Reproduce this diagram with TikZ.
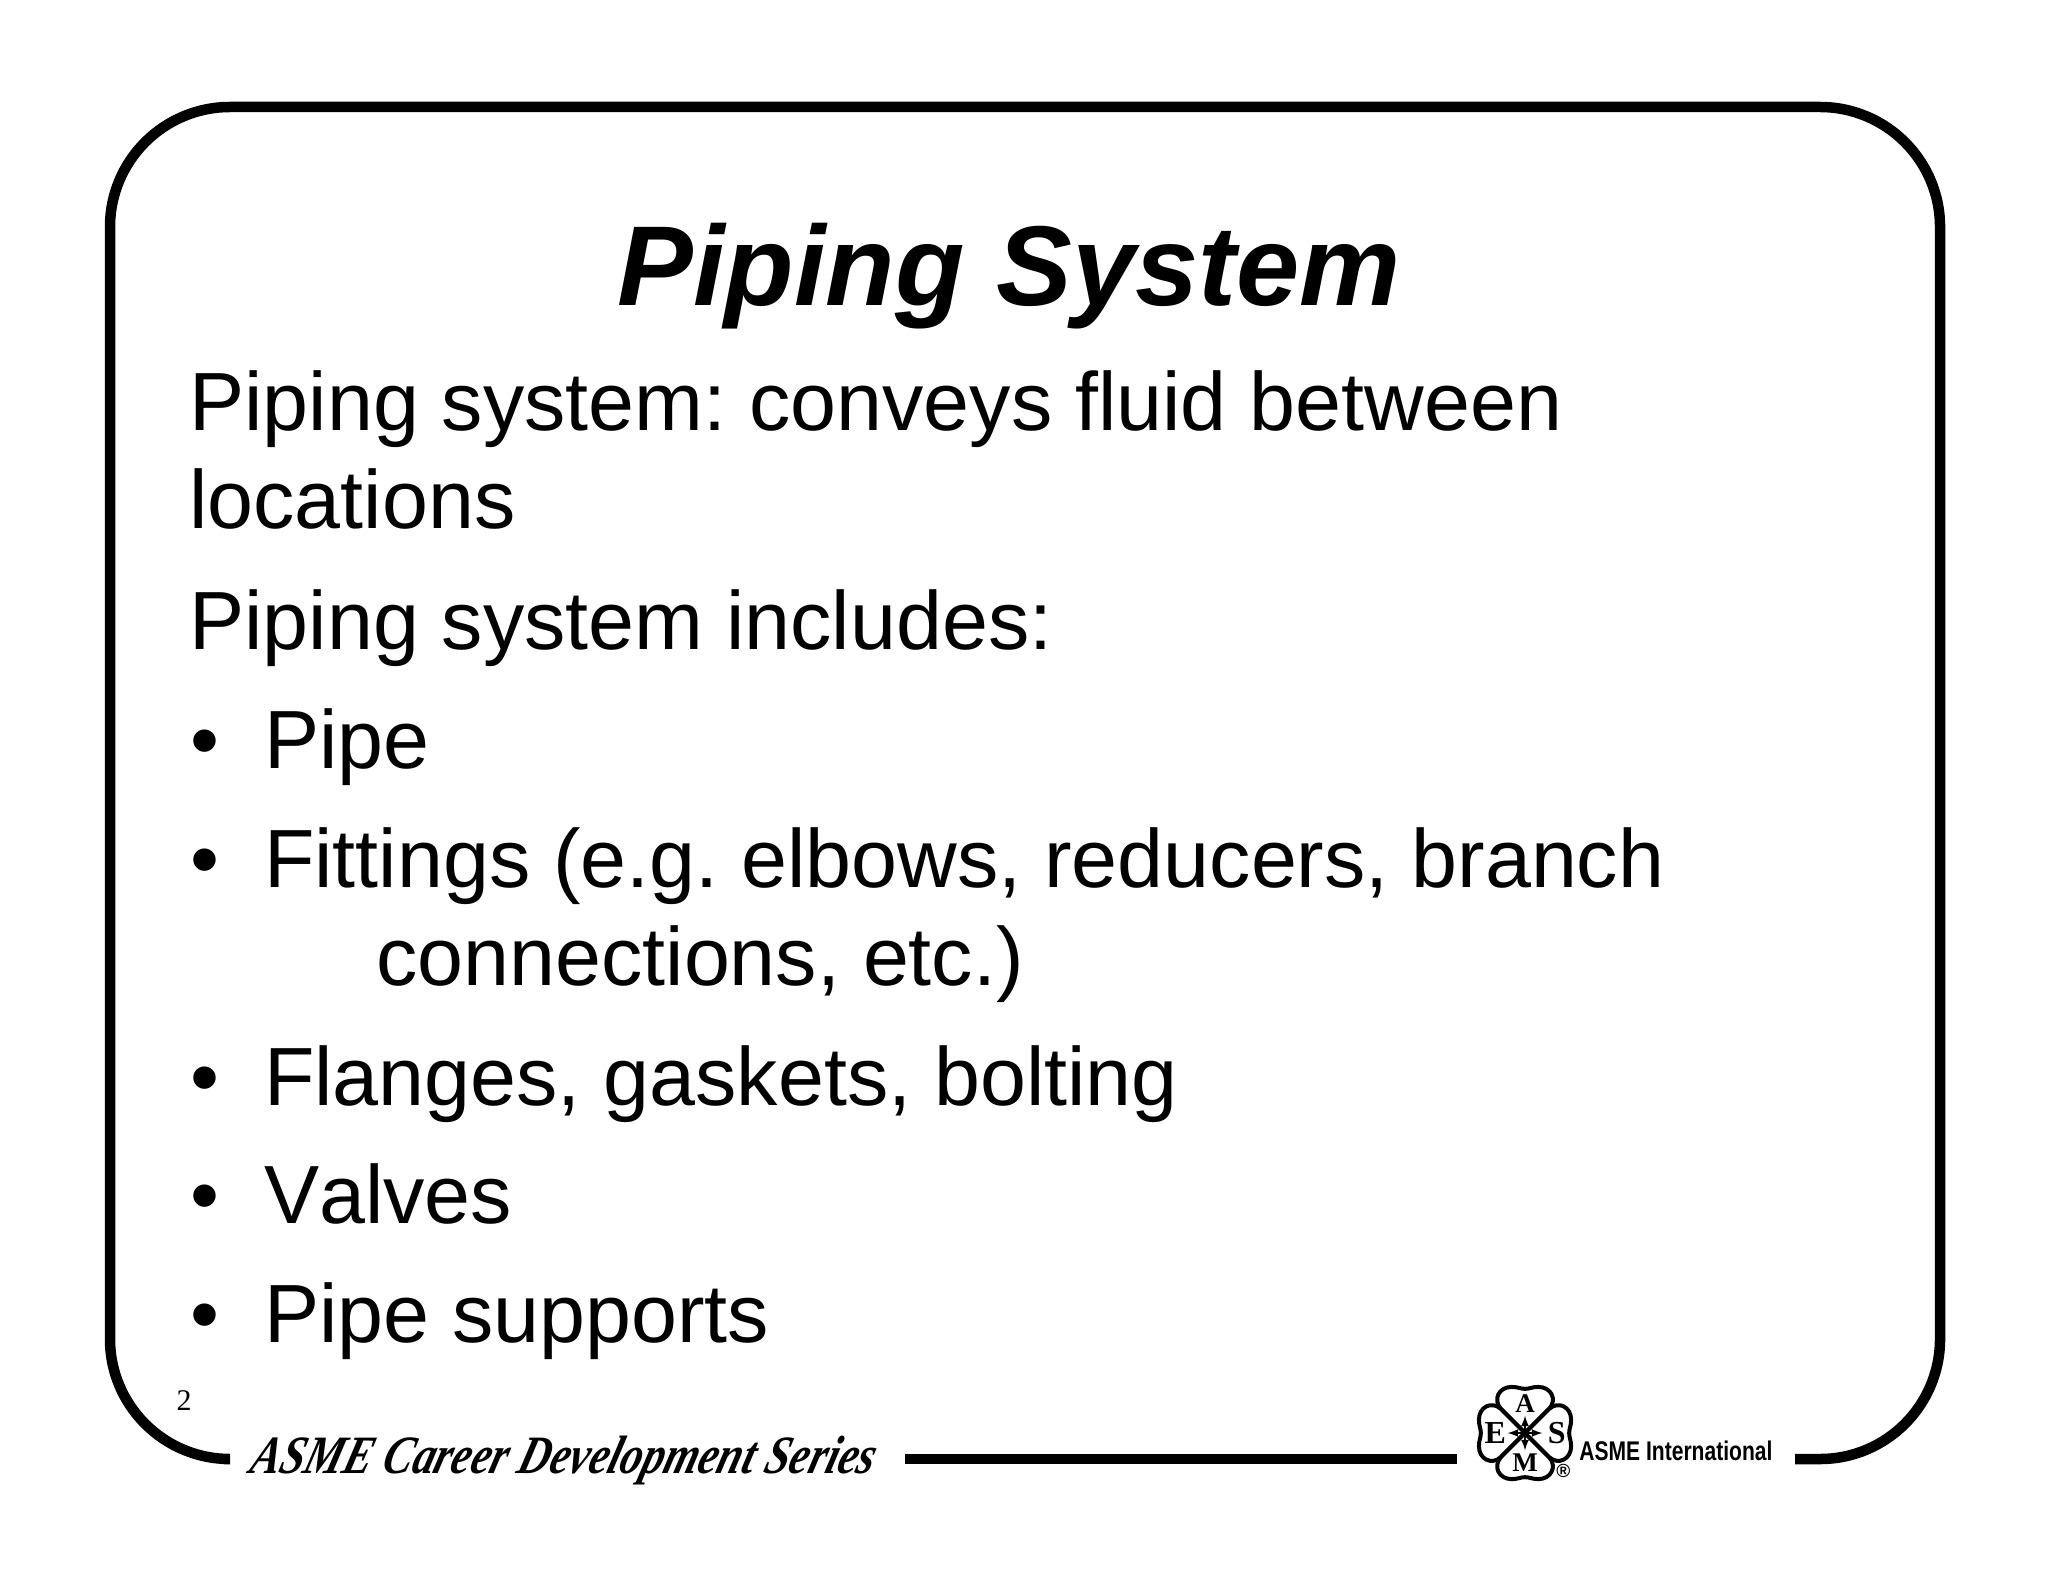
\documentclass[tikz,border=0pt]{standalone}
\usepackage{fontspec}
\setmainfont{Liberation Sans}
\newfontfamily\careerfont[FakeSlant=0.28,FakeStretch=0.81]{Liberation Serif}
\newfontfamily\logofont[FakeStretch=0.78]{Liberation Sans}
\newfontfamily\pagefont{Liberation Serif}
\usetikzlibrary{positioning}
\tikzset{%
	frame/.style={line width=5.25pt, line cap=butt, rounded corners=60pt},
	title/.style={inner sep=0pt, anchor=base, font=\fontsize{56.8}{60}\selectfont\bfseries\itshape},
	body/.style={inner sep=0pt, anchor=base west, font=\fontsize{41.3}{49}\selectfont},
	bull/.style={body},
	pagenum/.style={inner sep=0pt, anchor=base, font=\pagefont\fontsize{15}{16}\selectfont},
	career/.style={inner sep=0pt, anchor=base west, font=\careerfont\fontsize{27}{30}\selectfont\bfseries\itshape},
	asme/.style={inner sep=0pt, anchor=base west, font=\logofont\fontsize{13.5}{15}\selectfont\bfseries},
	lobe/.style={line width=2pt, fill=white, line join=round},
	letter/.style={inner sep=0pt, font=\pagefont\fontsize{13.5}{14}\selectfont\bfseries},
	sideletter/.style={inner sep=0pt, font=\pagefont\fontsize{16}{16}\selectfont\bfseries},
	regmark/.style={inner sep=0pt, font=\fontsize{9.5}{10}\selectfont\bfseries},
	spoke/.style={line width=0.8pt, -latex}
}
\begin{document}
\frenchspacing
\begin{tikzpicture}[x=0.5pt, y=-0.5pt]
	\useasboundingbox (0,0) rectangle (2048,1582);
	\coordinate (fl) at (224,1459);
	\coordinate (ml) at (905,1459);
	\coordinate (mr) at (1457,1459);
	\coordinate (fr) at (1795,1459);
	\draw[frame] (fl) -- (110,1459) -- (110,107) -- (1940,107) -- (1940,1459) -- (fr);
	\draw[frame] (ml) -- (mr);
	\node[title] (head) at (1009,306) {Piping System};
	\node[body] (l1) at (189,431)  {Piping system: conveys fluid between};
	\node[body] (l2) at (189,529)  {locations};
	\node[body] (l3) at (189,649)  {Piping system includes:};
	\node[bull] (b1) at (190,768)  {\textbullet};
	\node[body, base right=22pt of b1] (i1) {Pipe};
	\node[bull] (b2) at (190,887)  {\textbullet};
	\node[body, base right=22pt of b2] (i2) {Fittings (e.g. elbows, reducers, branch};
	\node[body] (i2b) at (376,985) {connections, etc.)};
	\node[bull] (b3) at (190,1105) {\textbullet};
	\node[body, base right=22pt of b3] (i3) {Flanges, gaskets, bolting};
	\node[bull] (b4) at (190,1223) {\textbullet};
	\node[body, base right=22pt of b4] (i4) {V\kern0pt alves};
	\node[bull] (b5) at (190,1342) {\textbullet};
	\node[body, base right=22pt of b5] (i5) {Pipe supports};
	\node[pagenum] (pg) at (184,1410) {2};
	\node[career] (cds) at (248,1473) {ASME Career Development Series};
	\node[asme] (ai) at (1579,1460) {ASME International};
	\begin{scope}[shift={(1525,1433)}, scale=0.96]
		\foreach \a in {0,90,180,270}
			\draw[lobe, rotate=\a] (0,0) -- (-25,-25) .. controls (-34,-35) and (-27,-48) .. (-14,-48)
				.. controls (-7,-48) and (-5,-46) .. (0,-46) .. controls (5,-46) and (7,-48) .. (14,-48)
				.. controls (27,-48) and (34,-35) .. (25,-25) -- cycle;
		\foreach \a in {0,90,180,270}
			\draw[spoke, rotate=\a] (0,0) -- (0,-18);
		\node[letter] (la) at (0,-31) {A};
		\node[sideletter] (ls) at (33,0)  {S};
		\node[letter] (lm) at (0,31)  {M};
		\node[sideletter] (le) at (-31,0) {E};
		\node[regmark] (reg) at (40,40) {®};
	\end{scope}
\end{tikzpicture}
\end{document}
